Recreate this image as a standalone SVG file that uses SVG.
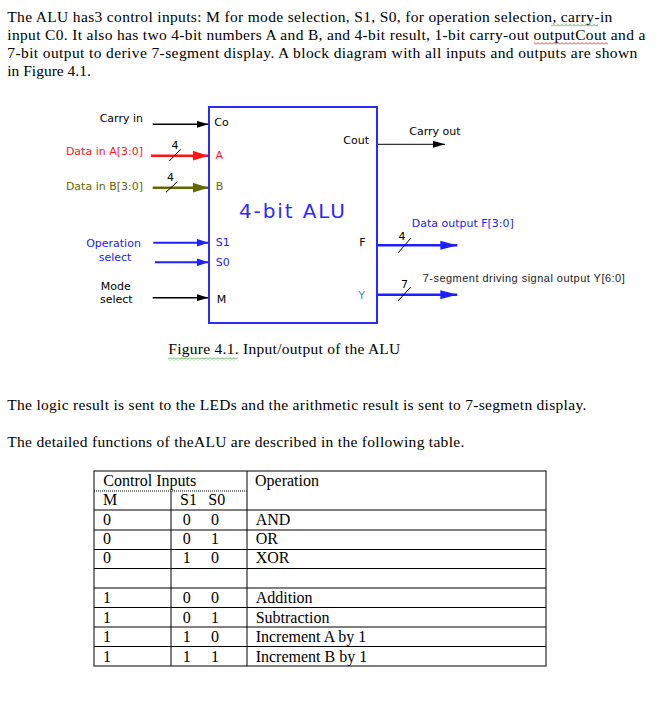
<svg xmlns="http://www.w3.org/2000/svg" width="672" height="711" viewBox="0 0 672 711">
<style>
.p{font-family:"Liberation Serif","Times New Roman",serif;font-size:15.5px;fill:#000}
.t{font-family:"Liberation Serif","Times New Roman",serif;font-size:16px;fill:#000}
.g{font-family:"DejaVu Sans",Verdana,sans-serif;font-size:11px}
.ln{stroke:#000;stroke-width:1;fill:none}
</style>
<defs>
<marker id="ahk" viewBox="0 0 12 7" markerWidth="12" markerHeight="7" refX="12" refY="3.5" orient="auto" markerUnits="userSpaceOnUse"><path d="M0,0 L12,3.5 L0,7 z" fill="#000"/></marker>
<marker id="ahr" viewBox="0 0 16 10" markerWidth="16" markerHeight="10" refX="16" refY="5" orient="auto" markerUnits="userSpaceOnUse"><path d="M0,0 L16,5 L0,10 z" fill="#ff1414"/></marker>
<marker id="aho" viewBox="0 0 16 10" markerWidth="16" markerHeight="10" refX="16" refY="5" orient="auto" markerUnits="userSpaceOnUse"><path d="M0,0 L16,5 L0,10 z" fill="#666600"/></marker>
<marker id="ahb" viewBox="0 0 12 8" markerWidth="12" markerHeight="8" refX="12" refY="4" orient="auto" markerUnits="userSpaceOnUse"><path d="M0,0 L12,4 L0,8 z" fill="#2020ff"/></marker>
<marker id="ahB" viewBox="0 0 17 9" markerWidth="17" markerHeight="9" refX="17" refY="4.5" orient="auto" markerUnits="userSpaceOnUse"><path d="M0,0 L17,4.5 L0,9 z" fill="#2020ff"/></marker>
<pattern id="wg" width="4" height="3" patternUnits="userSpaceOnUse"><path d="M0,2.5 L2,0.5 L4,2.5" stroke="#2e9a2e" stroke-width="0.9" fill="none"/></pattern>
<pattern id="wr" width="4" height="3" patternUnits="userSpaceOnUse"><path d="M0,2.5 L2,0.5 L4,2.5" stroke="#e02020" stroke-width="0.9" fill="none"/></pattern>
</defs>
<rect width="672" height="711" fill="#fff"/>

<g id="intro">
<text class="p" x="7.3" y="21.7" textLength="605" lengthAdjust="spacing">The ALU has3 control inputs: M for mode selection,  S1, S0, for operation selection,  carry-in</text>
<text class="p" x="7.3" y="40" textLength="638" lengthAdjust="spacing">input C0. It also has two 4-bit numbers A and B, and 4-bit result, 1-bit carry-out  outputCout and a</text>
<text class="p" x="7.3" y="57.5" textLength="630" lengthAdjust="spacing">7-bit output to derive 7-segment  display.  A block diagram with all inputs and outputs are shown</text>
<text class="p" x="7.3" y="76">in Figure 4.1.</text>
<rect x="551" y="23.5" width="47" height="3" fill="url(#wg)"/>
<rect x="534" y="42" width="74" height="3" fill="url(#wr)"/>
</g>

<g id="connectors">
<line x1="152.7" y1="124.3" x2="208.5" y2="124.3" stroke="#000" stroke-width="1.5" marker-end="url(#ahk)"/>
<line x1="151" y1="155.7" x2="208.5" y2="155.7" stroke="#ff1414" stroke-width="2.5" marker-end="url(#ahr)"/>
<line x1="169.3" y1="161" x2="180.7" y2="149.3" stroke="#000" stroke-width="1"/>
<line x1="152.7" y1="187.7" x2="208.5" y2="187.7" stroke="#666600" stroke-width="2.5" marker-end="url(#aho)"/>
<line x1="166" y1="192.3" x2="177.3" y2="181.7" stroke="#000" stroke-width="1"/>
<line x1="153.3" y1="242.7" x2="208.5" y2="242.7" stroke="#2020ff" stroke-width="2" marker-end="url(#ahb)"/>
<line x1="155" y1="262.3" x2="208.5" y2="262.3" stroke="#2020ff" stroke-width="2" marker-end="url(#ahb)"/>
<line x1="152.7" y1="297.7" x2="208.5" y2="297.7" stroke="#000" stroke-width="1.5" marker-end="url(#ahk)"/>
<line x1="377" y1="144.3" x2="445" y2="144.3" stroke="#000" stroke-width="1" marker-end="url(#ahk)"/>
<line x1="377" y1="245.3" x2="457.3" y2="245.3" stroke="#2020ff" stroke-width="2.5" marker-end="url(#ahB)"/>
<line x1="398.3" y1="252.7" x2="410.7" y2="238.3" stroke="#000" stroke-width="1"/>
<line x1="377" y1="294.7" x2="457.3" y2="294.7" stroke="#2020ff" stroke-width="2.5" marker-end="url(#ahB)"/>
<line x1="398" y1="301" x2="410.7" y2="287" stroke="#000" stroke-width="1"/>
</g>

<g id="labels">
<text class="g" x="143" y="121.5" text-anchor="end" fill="#000">Carry in</text>
<text class="g" x="143" y="154.5" text-anchor="end" fill="#ff1414">Data in A[3:0]</text>
<text class="g" x="175" y="149.3" text-anchor="middle" fill="#000">4</text>
<text class="g" x="143" y="190" text-anchor="end" fill="#666600">Data in B[3:0]</text>
<text class="g" x="170.5" y="180.7" text-anchor="middle" fill="#000">4</text>
<text class="g" x="113.5" y="247.3" text-anchor="middle" fill="#2020ff">Operation</text>
<text class="g" x="115" y="260.7" text-anchor="middle" fill="#2020ff">select</text>
<text class="g" x="100.7" y="290" fill="#000">Mode</text>
<text class="g" x="100" y="303.3" fill="#000">select</text>
<text class="g" x="409.3" y="135" fill="#000">Carry out</text>
<text class="g" x="411.7" y="226.7" fill="#2020ff">Data output F[3:0]</text>
<text class="g" x="402" y="240" text-anchor="middle" fill="#000">4</text>
<text class="g" x="404.5" y="288.3" text-anchor="middle" fill="#000">7</text>
<text x="422.7" y="281.7" font-family="'Liberation Sans',Arial,sans-serif" font-size="11" fill="#222" textLength="202" lengthAdjust="spacing">7-segment driving signal output Y[6:0]</text>
</g>

<g id="alu">
<rect x="209" y="107" width="168" height="216" fill="none" stroke="#2a2aff" stroke-width="2"/>
<text class="g" x="214.3" y="126" fill="#000">Co</text>
<text class="g" x="215.5" y="159.3" fill="#ff1414">A</text>
<text class="g" x="215.7" y="190" fill="#666600">B</text>
<text class="g" x="215.7" y="246" fill="#2020ff">S1</text>
<text class="g" x="215.7" y="266" fill="#2020ff">S0</text>
<text class="g" x="216.7" y="302.7" fill="#000">M</text>
<text class="g" x="343.3" y="144" fill="#000">Cout</text>
<text class="g" x="359.3" y="245.7" fill="#000">F</text>
<text class="g" x="358.3" y="299.3" fill="#4a86b0">Y</text>
<text x="239" y="218" font-family="'DejaVu Sans',Verdana,sans-serif" font-size="20" fill="#2a2aff" textLength="106" lengthAdjust="spacing">4-bit ALU</text>
</g>

<g id="caption">
<text class="p" x="168.3" y="354" textLength="232" lengthAdjust="spacing">Figure 4.1. Input/output of the ALU</text>
<rect x="168" y="357.5" width="70" height="3" fill="url(#wg)"/>
</g>

<g id="middle">
<text class="p" x="7.3" y="410" textLength="579" lengthAdjust="spacing">The logic result is sent to the LEDs and the arithmetic result is sent to 7-segmetn display.</text>
<text class="p" x="7.3" y="446.7" textLength="457" lengthAdjust="spacing">The detailed functions of theALU are described in the following table.</text>
</g>

<g id="table">
<rect x="94" y="471" width="452" height="195" class="ln"/>
<line class="ln" x1="94" y1="491" x2="247" y2="491" stroke-dasharray="1,1"/>
<line class="ln" x1="171" y1="491" x2="171" y2="666"/>
<line class="ln" x1="247" y1="471" x2="247" y2="666"/>
<line class="ln" x1="94" y1="510" x2="546" y2="510"/>
<line class="ln" x1="94" y1="530" x2="546" y2="530"/>
<line class="ln" x1="94" y1="549.5" x2="546" y2="549.5"/>
<line class="ln" x1="94" y1="568.5" x2="546" y2="568.5"/>
<line class="ln" x1="94" y1="588" x2="546" y2="588"/>
<line class="ln" x1="94" y1="607.5" x2="546" y2="607.5"/>
<line class="ln" x1="94" y1="627" x2="546" y2="627"/>
<line class="ln" x1="94" y1="646.5" x2="546" y2="646.5"/>
<text class="t" x="103.3" y="485.7">Control Inputs</text>
<text class="t" x="255" y="485.7">Operation</text>
<text class="t" x="103" y="505">M</text>
<text class="t" x="180" y="505">S1</text>
<text class="t" x="208.3" y="505">S0</text>
<text class="t" x="103" y="524.5">0</text><text class="t" x="182.7" y="524.5">0</text><text class="t" x="211" y="524.5">0</text><text class="t" x="255.7" y="524.5">AND</text>
<text class="t" x="103" y="544">0</text><text class="t" x="182.7" y="544">0</text><text class="t" x="211" y="544">1</text><text class="t" x="255.7" y="544">OR</text>
<text class="t" x="103" y="563.4">0</text><text class="t" x="182.7" y="563.4">1</text><text class="t" x="211" y="563.4">0</text><text class="t" x="255.7" y="563.4">XOR</text>
<text class="t" x="103" y="602.7">1</text><text class="t" x="182.7" y="602.7">0</text><text class="t" x="211" y="602.7">0</text><text class="t" x="255.7" y="602.7">Addition</text>
<text class="t" x="103" y="622.5">1</text><text class="t" x="182.7" y="622.5">0</text><text class="t" x="211" y="622.5">1</text><text class="t" x="255.7" y="622.5">Subtraction</text>
<text class="t" x="103" y="642.3">1</text><text class="t" x="182.7" y="642.3">1</text><text class="t" x="211" y="642.3">0</text><text class="t" x="255.7" y="642.3">Increment A by 1</text>
<text class="t" x="103" y="661.7">1</text><text class="t" x="182.7" y="661.7">1</text><text class="t" x="211" y="661.7">1</text><text class="t" x="255.7" y="661.7">Increment B by 1</text>
</g>
</svg>
